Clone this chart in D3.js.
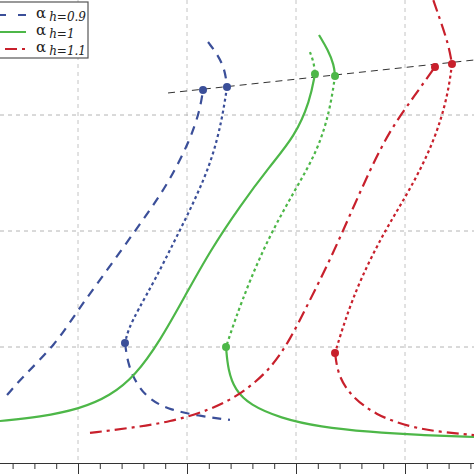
<!DOCTYPE html>
<html><head><meta charset="utf-8">
<script src="https://cdn.jsdelivr.net/npm/d3@7"></script>
<style>body{margin:0;background:#fff}</style>
</head><body>
<svg id="c" width="474" height="474"></svg>
<script>
// branches: [x, y] pairs, upper / middle / lower parts of each curve
var blueLeft = [[0.349,0.586],[0.509,0.759],[0.789,1.017],[1,1.319],[1.202,1.578],[1.431,1.879],[1.661,2.181],[1.844,2.44],[2.028,2.784],[2.119,3.043],[2.147,3.216]];
var blueTop = [[2.193,3.629],[2.284,3.517],[2.349,3.388],[2.367,3.241]];
var blueMid = [[2.367,3.241],[2.321,2.957],[2.229,2.612],[2.073,2.267],[1.89,1.922],[1.706,1.578],[1.55,1.319],[1.459,1.147],[1.431,1.034]];
var blueLow = [[1.431,1.034],[1.459,0.845],[1.541,0.672],[1.661,0.543],[1.844,0.457],[2.119,0.405],[2.394,0.371]];

var greenLeft = [[0.284,0.362],[0.651,0.397],[1.018,0.466],[1.294,0.578],[1.523,0.75],[1.752,1.052],[1.982,1.44],[2.211,1.828],[2.486,2.216],[2.761,2.56],[2.991,2.819],[3.128,3.121],[3.174,3.353]];
var greenTop = [[3.211,3.69],[3.294,3.56],[3.349,3.431],[3.358,3.336]];
var greenStub = [[3.128,3.543],[3.165,3.45],[3.174,3.353]];
var greenMid = [[3.358,3.336],[3.312,3.043],[3.202,2.698],[2.991,2.353],[2.761,1.966],[2.578,1.578],[2.44,1.233],[2.358,1.0]];
var greenLow = [[2.358,1.0],[2.376,0.802],[2.44,0.629],[2.578,0.5],[2.853,0.388],[3.22,0.31],[3.679,0.267],[4.138,0.241],[4.633,0.224]];

var redLeft = [[1.11,0.259],[1.477,0.302],[1.844,0.353],[2.211,0.457],[2.486,0.586],[2.761,0.802],[2.945,1.06],[3.128,1.405],[3.312,1.75],[3.495,2.138],[3.679,2.526],[3.862,2.871],[4.092,3.172],[4.275,3.414]];
var redTop = [[4.26,3.99],[4.33,3.8],[4.4,3.603],[4.431,3.44]];
var redMid = [[4.431,3.44],[4.394,3.172],[4.275,2.784],[4.046,2.353],[3.817,2.009],[3.587,1.578],[3.45,1.233],[3.358,0.948]];
var redLow = [[3.358,0.948],[3.385,0.759],[3.495,0.586],[3.725,0.414],[4.046,0.31],[4.321,0.267],[4.633,0.241]];

var blueDots = [[2.147,3.216],[2.367,3.241],[1.431,1.034]];
var greenDots = [[3.174,3.353],[3.358,3.336],[2.358,1.0]];
var redDots = [[4.275,3.414],[4.431,3.44],[3.358,0.948]];
var guide = [[1.826,3.19],[4.633,3.474]];

var xGrid = [1,2,3,4];
var yGrid = [1,2,3];
var legendNames = ["0.9","1","1.1"];

var blue = "#3b4f99", green = "#4db748", red = "#c8202c";

var svg = d3.select("#c");
var x = d3.scaleLinear().domain([1,4]).range([78,405]);
var y = d3.scaleLinear().domain([0,3]).range([463,115]);
var line = d3.line().x(d => x(d[0])).y(d => y(d[1])).curve(d3.curveBasis);

svg.append("clipPath").attr("id","clip").append("rect").attr("width",474).attr("height",463);

svg.selectAll(".gx").data(xGrid).enter().append("line")
  .attr("x1",d=>x(d)).attr("x2",d=>x(d)).attr("y1",0).attr("y2",463)
  .attr("stroke","#c4c4c4").attr("stroke-dasharray","4,4");
svg.selectAll(".gy").data(yGrid).enter().append("line")
  .attr("x1",0).attr("x2",474).attr("y1",d=>y(d)).attr("y2",d=>y(d))
  .attr("stroke","#b4b4b4").attr("stroke-dasharray","4,4");

var g = svg.append("g").attr("clip-path","url(#clip)");

g.append("path").attr("d",line(guide)).attr("fill","none").attr("stroke","#333").attr("stroke-width",1).attr("stroke-dasharray","7,5");

function draw(data, color, dash){
  g.append("path").attr("d",line(data)).attr("fill","none")
    .attr("stroke",color).attr("stroke-width",2.2).attr("stroke-dasharray",dash);
}
var dashed = "9,7", dotted = "3,3", dashdot = "12,5,3,5";
draw(blueLeft,blue,dashed); draw(blueTop,blue,dashed); draw(blueMid,blue,dotted); draw(blueLow,blue,dashed);
draw(greenLeft,green,null); draw(greenTop,green,null); draw(greenStub,green,dotted); draw(greenMid,green,dotted); draw(greenLow,green,null);
draw(redLeft,red,dashdot); draw(redTop,red,dashdot); draw(redMid,red,dotted); draw(redLow,red,dashdot);

[[blueDots,blue],[greenDots,green],[redDots,red]].forEach(function(p){
  g.selectAll(null).data(p[0]).enter().append("circle")
    .attr("cx",d=>x(d[0])).attr("cy",d=>y(d[1])).attr("r",4).attr("fill",p[1]);
});

// bottom axis with minor ticks
var xAxis = d3.axisBottom(x).tickValues(d3.range(-0.4,4.7,0.2)).tickFormat("").tickSizeOuter(0)
  .tickSize(6);
var ax = svg.append("g").attr("transform","translate(0,463)").call(xAxis);
ax.select(".domain").attr("d","M0,0.5H474").attr("stroke","#333");
ax.selectAll(".tick line").attr("stroke","#333")
  .attr("y2",d=>Math.abs(d-Math.round(d))<0.01 ? 11 : 6);

// legend
var lg = svg.append("g");
lg.append("rect").attr("x",-2).attr("y",2).attr("width",90).attr("height",56)
  .attr("fill","#fff").attr("stroke","#555").attr("stroke-width",1.2);
var legendStyle = [[blue,"9,12"],[green,null],[red,"3,5,12,5"]];
legendNames.forEach(function(n,i){
  var yy = 15 + i*17;
  lg.append("line").attr("x1",-3).attr("x2",26).attr("y1",yy).attr("y2",yy)
    .attr("stroke",legendStyle[i][0]).attr("stroke-width",2).attr("stroke-dasharray",legendStyle[i][1]);
  var t = lg.append("text").attr("x",36).attr("y",yy+3).attr("font-family","DejaVu Serif, serif").attr("fill","#222");
  t.append("tspan").attr("font-size",15).text("α");
  t.append("tspan").attr("font-size",12).attr("font-style","italic").attr("dx",3).attr("dy",3).text("h=" + n);
});
</script>
</body></html>
